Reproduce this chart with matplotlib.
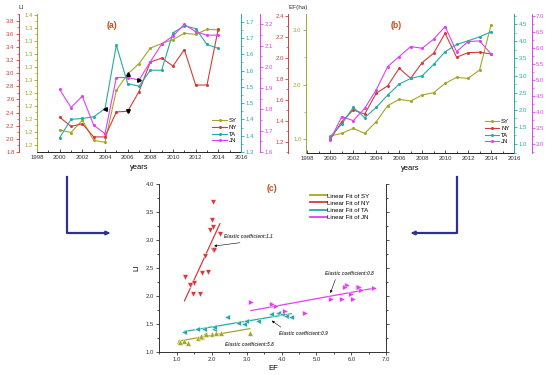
import numpy as np
import matplotlib
matplotlib.use("Agg")
import matplotlib.pyplot as plt
from matplotlib.ticker import MultipleLocator, FixedLocator, FixedFormatter, FormatStrFormatter
from matplotlib.lines import Line2D
from matplotlib.patches import FancyArrowPatch

plt.rcParams["font.family"] = ["Liberation Sans", "DejaVu Sans"]

W, H = 550, 375

years = list(range(2000, 2015))
cities = ["SY", "NY", "TA", "JN"]
colors = {"SY": "#a5a52c", "NY": "#d43c3c", "TA": "#27aaa6", "JN": "#e040f4"}

# LI per city (panel a)
li_sy = [1.183, 1.179, 1.198, 1.167, 1.164, 1.244, 1.269, 1.285, 1.309, 1.316, 1.322, 1.332, 1.330, 1.338, 1.337]
li_ny = [2.33, 2.19, 2.23, 2.03, 2.03, 2.41, 2.42, 2.72, 3.17, 3.23, 3.11, 3.36, 2.82, 2.82, 3.68]
li_ta = [1.344, 1.400, 1.403, 1.408, 1.433, 1.628, 1.510, 1.502, 1.551, 1.551, 1.666, 1.687, 1.679, 1.630, 1.618]
li_jn = [1.894, 1.809, 1.862, 1.726, 1.686, 1.950, 1.950, 1.938, 2.024, 2.107, 2.145, 2.200, 2.165, 2.149, 2.149]

# EF per city (panel b)
ef_sy = [1.055, 1.104, 1.196, 1.104, 1.318, 1.612, 1.728, 1.697, 1.807, 1.850, 2.021, 2.131, 2.113, 2.266, 3.092]
ef_ny = [1.222, 1.391, 1.503, 1.464, 1.662, 1.733, 1.901, 1.805, 1.955, 2.044, 2.235, 2.006, 2.050, 2.054, 2.038]
ef_ta = [1.214, 1.584, 2.070, 1.768, 2.070, 2.430, 2.751, 2.916, 2.994, 3.325, 3.695, 3.909, 4.016, 4.132, 4.278]
ef_jn = [3.125, 3.852, 3.728, 4.112, 4.684, 5.412, 5.724, 6.035, 5.983, 6.264, 6.659, 5.879, 6.191, 6.212, 5.807]

li = {"SY": li_sy, "NY": li_ny, "TA": li_ta, "JN": li_jn}
ef = {"SY": ef_sy, "NY": ef_ny, "TA": ef_ta, "JN": ef_jn}
markers = {"SY": "^", "NY": "v", "TA": "<", "JN": ">"}

# black highlighted points in panel (a)
mark_year = {"SY": 2006, "NY": 2006, "TA": 2004, "JN": 2007}

# tick labels of the yellow / teal axes in panel (a)
a_yel_ticks = [1.16, 1.18, 1.20, 1.22, 1.24, 1.26, 1.28, 1.30, 1.32, 1.34, 1.36]
a_yel_labels = ["1.2", "1.2", "1.2", "1.2", "1.2", "1.3", "1.3", "1.3", "1.3", "1.3", "1.4"]
a_teal_ticks = [1.30, 1.35, 1.40, 1.45, 1.50, 1.55, 1.60, 1.65, 1.70]
a_teal_labels = ["1.3", "1.4", "1.4", "1.5", "1.5", "1.6", "1.6", "1.7", "1.7"]

coef_text = {"NY": "Elastic coefficient:1.1", "JN": "Elastic coefficient:0.8",
             "TA": "Elastic coefficient:0.9", "SY": "Elastic coefficient:5.8"}

FS = 4.3
LABEL_C = "#c4501e"


def rect(x0, y0, x1, y1):
    return [x0 / W, 1 - y1 / H, (x1 - x0) / W, (y1 - y0) / H]


def style_y(ax, side, color, offset, lim, major=None, minor=None, ticks=None, labels=None, fmt="%.1f"):
    for s in ax.spines.values():
        s.set_visible(False)
    ax.spines[side].set_visible(True)
    ax.spines[side].set_color(color)
    ax.spines[side].set_linewidth(0.7)
    ax.spines[side].set_position(("outward", offset))
    if side == "left":
        ax.yaxis.tick_left()
    else:
        ax.yaxis.tick_right()
    ax.set_ylim(*lim)
    if ticks is not None:
        ax.yaxis.set_major_locator(FixedLocator(ticks))
        ax.yaxis.set_major_formatter(FixedFormatter(labels))
        mids = [(a + b) / 2 for a, b in zip(ticks[:-1], ticks[1:])]
        ax.yaxis.set_minor_locator(FixedLocator(mids))
    else:
        ax.yaxis.set_major_locator(MultipleLocator(major))
        ax.yaxis.set_minor_locator(MultipleLocator(minor))
        ax.yaxis.set_major_formatter(FormatStrFormatter(fmt))
    ax.tick_params(axis="y", which="major", colors=color, labelsize=FS, length=2.2,
                   width=0.6, direction="out", pad=1)
    ax.tick_params(axis="y", which="minor", colors=color, length=1.2, width=0.5, direction="out")


def time_panel(r, data, lims, offs, tag, legend_xy, ytick_opts):
    host = fig.add_axes(r)
    host.patch.set_alpha(0)
    host.set_xlim(1998, 2016)
    host.xaxis.set_major_locator(MultipleLocator(2))
    host.xaxis.set_minor_locator(MultipleLocator(1))
    host.tick_params(axis="x", which="major", labelsize=FS, length=2.2, width=0.6,
                     direction="in", pad=2, colors="#333333")
    host.tick_params(axis="x", which="minor", length=1.2, width=0.5, direction="in")
    host.set_xlabel("years", fontsize=5.4, labelpad=3)

    ax_red = host.twinx()
    ax_teal = host.twinx()
    ax_mag = host.twinx()
    axes = {"SY": host, "NY": ax_red, "TA": ax_teal, "JN": ax_mag}
    sides = {"SY": "left", "NY": "left", "TA": "right", "JN": "right"}
    for c in cities:
        style_y(axes[c], sides[c], colors[c], offs[c], lims[c], **ytick_opts[c])
    host.spines["bottom"].set_visible(True)
    host.spines["bottom"].set_color("#222222")
    host.spines["bottom"].set_linewidth(0.7)

    handles = []
    for c in cities:
        ln, = axes[c].plot(years, data[c], color=colors[c], lw=0.8, marker="o", ms=1.2,
                           mec=colors[c], mfc=colors[c])
        handles.append(ln)
    if tag == "(a)":
        for c in cities:
            yr = mark_year[c]
            axes[c].plot([yr], [data[c][years.index(yr)]], marker=markers[c], ms=2.6,
                         color="black", ls="none", zorder=5)
    ax_mag.legend(handles, cities, loc="upper left", bbox_to_anchor=legend_xy,
                  frameon=False, fontsize=FS, handlelength=2.4, handletextpad=0.3,
                  labelspacing=0.25, borderpad=0, borderaxespad=0)
    return host


fig = plt.figure(figsize=(W / 100, H / 100), dpi=100)

# panel (a)
lims_a = {"SY": (1.149, 1.3615), "NY": (1.8, 3.902), "TA": (1.3, 1.7236), "JN": (1.6, 2.2485)}
offs_a = {"SY": 0, "NY": 13, "TA": 0, "JN": 13.7}
opts_a = {"SY": dict(ticks=a_yel_ticks, labels=a_yel_labels),
          "NY": dict(major=0.2, minor=0.1),
          "TA": dict(ticks=a_teal_ticks, labels=a_teal_labels),
          "JN": dict(major=0.1, minor=0.05)}
time_panel(rect(37, 14, 241, 152), li, lims_a, offs_a, "(a)", (0.86, 0.245), opts_a)

# panel (b)
lims_b = {"SY": (0.738, 3.294), "NY": (1.089, 2.419), "TA": (0.728, 4.80), "JN": (2.71, 7.05)}
offs_b = {"SY": 1, "NY": 13.7, "TA": 0, "JN": 12.6}
opts_b = {"SY": dict(major=1.0, minor=0.5),
          "NY": dict(major=0.2, minor=0.1),
          "TA": dict(major=0.5, minor=0.25),
          "JN": dict(major=0.5, minor=0.25)}
time_panel(rect(307.3, 14, 514, 153.3), ef, lims_b, offs_b, "(b)", (0.86, 0.245), opts_b)

fig.text(20.7 / W, 1 - 7.3 / H, "LI", fontsize=4.6, ha="center", va="center", color="#333333")
fig.text(298 / W, 1 - 7.3 / H, "EF(ha)", fontsize=4.6, ha="center", va="center", color="#333333")
fig.text(112 / W, 1 - 25 / H, "(a)", fontsize=6.3, weight="bold", color=LABEL_C, ha="center", va="center")
fig.text(396 / W, 1 - 25 / H, "(b)", fontsize=6.3, weight="bold", color=LABEL_C, ha="center", va="center")

# panel (c)
axc = fig.add_axes(rect(159.3, 184, 386.3, 351.7))
axc.set_xlim(0.5, 7.0)
axc.set_ylim(1.0, 4.0)
axc.spines["top"].set_visible(False)
for s in ["left", "bottom", "right"]:
    axc.spines[s].set_linewidth(0.7)
    axc.spines[s].set_color("#333333")
axc.xaxis.set_major_locator(MultipleLocator(1.0))
axc.xaxis.set_minor_locator(MultipleLocator(0.5))
axc.yaxis.set_major_locator(MultipleLocator(0.5))
axc.yaxis.set_minor_locator(MultipleLocator(0.25))
axc.xaxis.set_major_formatter(FormatStrFormatter("%.1f"))
axc.yaxis.set_major_formatter(FormatStrFormatter("%.1f"))
axc.tick_params(which="major", labelsize=FS, length=2.2, width=0.6, direction="out", pad=1.5,
                colors="#333333")
axc.tick_params(which="minor", length=1.2, width=0.5, direction="out")
axc.tick_params(axis="y", which="both", right=True)
axc.set_xlabel("EF", fontsize=5.5, labelpad=2)
axc.set_ylabel("LI", fontsize=5.5, labelpad=4)

fit_handles = []
for c in cities:
    x = np.array(ef[c])
    y = np.array(li[c])
    axc.scatter(x, y, marker=markers[c], s=16, color=colors[c], edgecolors="white",
                linewidths=0.3, zorder=3)
    k, b = np.polyfit(x, y, 1)
    xs = np.array([x.min(), x.max()])
    axc.plot(xs, k * xs + b, color=colors[c], lw=0.9, zorder=2)
    fit_handles.append(Line2D([], [], color=colors[c], lw=1.3))
axc.legend(fit_handles, ["Linear Fit of " + c for c in cities], loc="upper left",
           bbox_to_anchor=(0.664, 0.945), frameon=False, fontsize=4.4, handlelength=2.7,
           handletextpad=0.15, labelspacing=0.3, borderpad=0, borderaxespad=0)
axc.text(0.5 * (271.7 - 159.3) / 113.5, 1 - (189 - 184) / 167.7, "(c)", transform=axc.transAxes,
         fontsize=6.3, weight="bold", color=LABEL_C, ha="center", va="center")

ann_text_pos = {"NY": (2.35, 3.06), "JN": (5.25, 2.40), "TA": (3.92, 1.317), "SY": (2.38, 1.12)}
ann_arrows = {"NY": ((2.81, 2.95), (2.07, 2.89)), "JN": ((5.54, 2.29), (5.40, 2.05)),
              "TA": ((3.98, 1.44), (3.72, 1.555))}
for c in cities:
    tx, ty = ann_text_pos[c]
    axc.text(tx, ty, coef_text[c], fontsize=3.4, style="italic", weight="bold",
             color="#444444", ha="left", va="center")
    if c in ann_arrows:
        tail, tip = ann_arrows[c]
        axc.annotate("", xy=tip, xytext=tail,
                     arrowprops=dict(arrowstyle="-|>", color="black", lw=0.4,
                                     mutation_scale=3.5, shrinkA=0, shrinkB=0))

# blue connector arrows
NAVY = "#2e3192"
for x0, x1 in [(66.5, 113), (457, 408)]:
    fig.add_artist(Line2D([x0 / W, x0 / W, (x1 + (6 if x1 < x0 else -6)) / W],
                          [1 - 177 / H, 1 - 233 / H, 1 - 233 / H],
                          color=NAVY, lw=1.6, transform=fig.transFigure))
    start = x1 + (9 if x1 < x0 else -9)
    fig.add_artist(FancyArrowPatch((start / W, 1 - 233 / H), (x1 / W, 1 - 233 / H),
                                   arrowstyle="-|>", mutation_scale=6, color=NAVY, lw=1.2,
                                   transform=fig.transFigure))

fig.savefig("out.png", dpi=100)
